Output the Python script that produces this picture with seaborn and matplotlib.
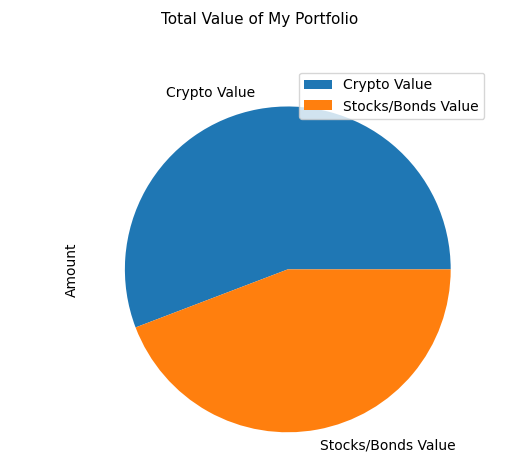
import matplotlib
matplotlib.use("Agg")
import matplotlib.pyplot as plt
import seaborn as sns

labels = ["Crypto Value", "Stocks/Bonds Value"]
amounts = [55800, 44200]

colors = sns.color_palette("tab10", 2)
fig = plt.figure(figsize=(5.19, 4.73), dpi=100)
ax = fig.add_axes([0.162, 0.0, 0.785, 0.861])
ax.pie(amounts, labels=labels, colors=colors)
ax.set_aspect("equal")
ax.set_ylabel("Amount")
ax.legend(loc="upper right")
fig.suptitle("Total Value of My Portfolio", y=0.975, fontsize=11)
fig.savefig("out.png", dpi=100)
